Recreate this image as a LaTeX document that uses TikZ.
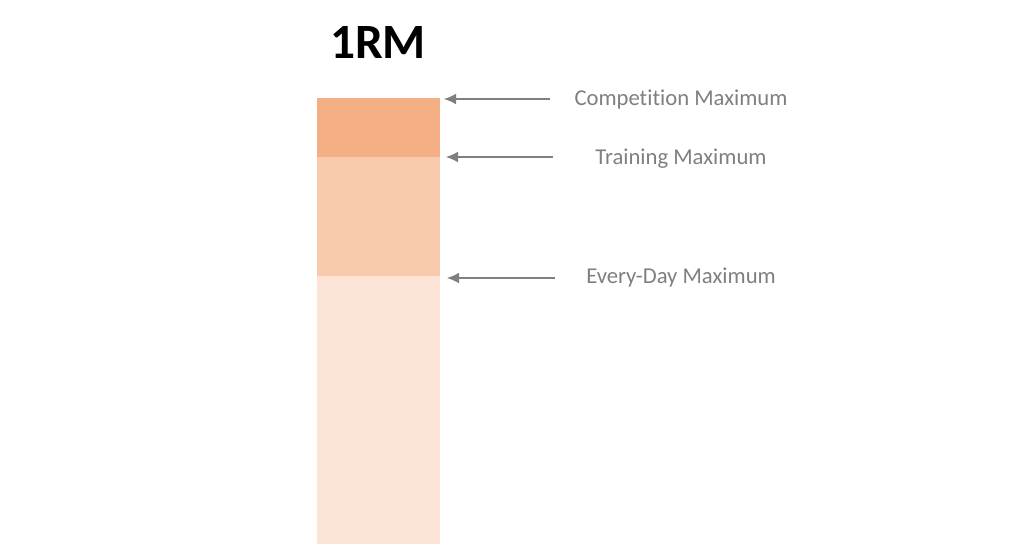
\documentclass[tikz,border=0pt]{standalone}
\usepackage{fontspec}
\setmainfont[Ligatures=NoCommon]{Carlito}
\usetikzlibrary{arrows.meta}
\definecolor{compcol}{HTML}{F4AF84}
\definecolor{traincol}{HTML}{F8CBAD}
\definecolor{daycol}{HTML}{FCE4D6}
\definecolor{labelgray}{HTML}{7F7F7F}
\begin{document}
\begin{tikzpicture}[x=0.75pt, y=-0.75pt]
	\tikzset{maxlabel/.style={text=labelgray, font=\fontsize{17}{20}\selectfont, inner sep=0pt}}
	\tikzset{maxarrow/.style={-{Latex[length=9pt,width=8pt]}, color=labelgray, line width=0.8pt}}
	\useasboundingbox (0,0) rectangle (1034,544);
	\fill[color=daycol] (317,276) rectangle (440,544);
	\fill[color=traincol] (317,157) rectangle (440,276);
	\fill[color=compcol] (317,98) rectangle (440,157);
	\node[font=\bfseries\fontsize{37}{44}\selectfont] (title) at (378,42) {1RM};
	\node[maxlabel] (comp) at (681,100) {Competition Maximum};
	\node[maxlabel] (train) at (681,159) {Training Maximum};
	\node[maxlabel] (day) at (681,278) {Every-Day Maximum};
	\coordinate (compend) at (444,99);
	\coordinate (trainend) at (446,157);
	\coordinate (dayend) at (447,278);
	\coordinate (compstart) at (550,99);
	\coordinate (trainstart) at (553,157);
	\coordinate (daystart) at (555,278);
	\draw[maxarrow] (compstart) -- (compend);
	\draw[maxarrow] (trainstart) -- (trainend);
	\draw[maxarrow] (daystart) -- (dayend);
\end{tikzpicture}
\end{document}
